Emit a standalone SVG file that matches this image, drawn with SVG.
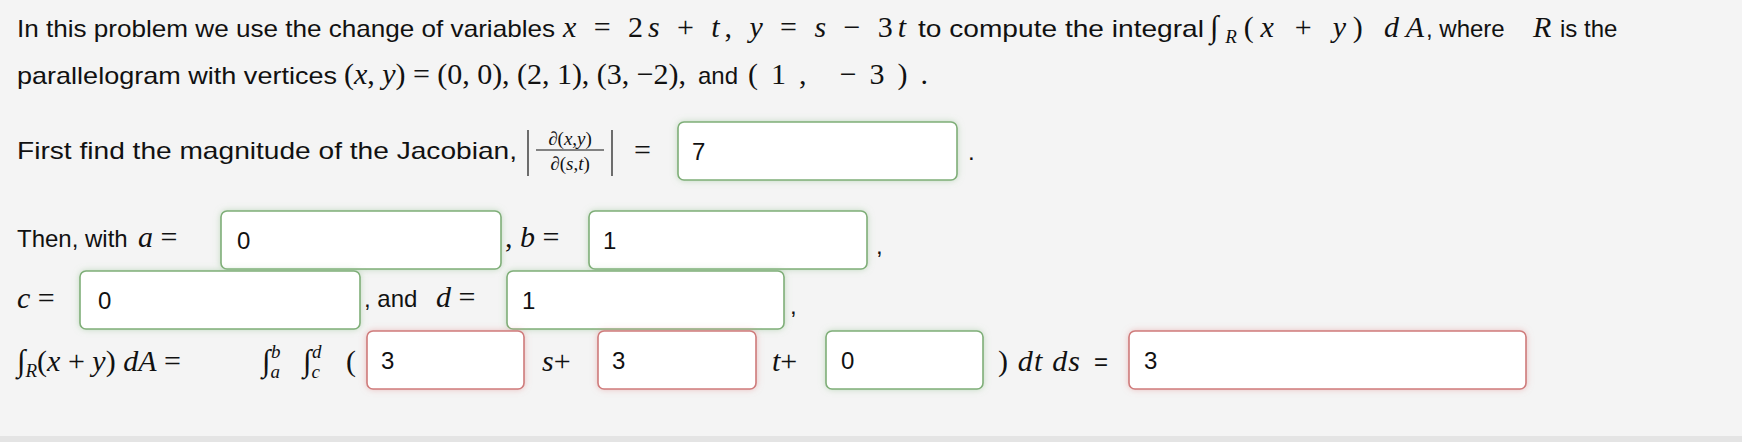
<svg xmlns="http://www.w3.org/2000/svg" width="1742" height="442" viewBox="0 0 1742 442">
<style>
.t{font-family:"Liberation Sans",Arial,sans-serif;font-size:24px;fill:#111}
.m{font-family:"Liberation Serif","Times New Roman",serif;font-size:30px;fill:#111}
.i{font-style:italic}
.s{font-size:19px}
.box{fill:#fff;stroke-width:1.6}
.g{stroke:#7fae78;filter:url(#gg)}
.r{stroke:#cf7b7b;filter:url(#gr)}
.v{font-family:"Liberation Sans",Arial,sans-serif;font-size:24px;fill:#111}
</style>
<defs>
<filter id="gg" x="-10%" y="-30%" width="120%" height="160%"><feDropShadow dx="0" dy="0" stdDeviation="3" flood-color="#8fc08a" flood-opacity="0.5"/></filter>
<filter id="gr" x="-10%" y="-30%" width="120%" height="160%"><feDropShadow dx="0" dy="0" stdDeviation="3" flood-color="#e08a8a" flood-opacity="0.5"/></filter>
</defs>
<rect width="1742" height="442" fill="#f4f4f4"/>
<rect x="0" y="436" width="1742" height="6" fill="#e4e4e4"/>
<g id="line1">
<text class="t" x="17" y="37" textLength="538" lengthAdjust="spacingAndGlyphs">In this problem we use the change of variables</text>
<text class="m" x="563" y="37" textLength="343" lengthAdjust="spacing"><tspan class="i">x</tspan> = 2<tspan class="i">s</tspan> + <tspan class="i">t</tspan>, <tspan class="i">y</tspan> = <tspan class="i">s</tspan> − 3<tspan class="i">t</tspan></text>
<text class="t" x="918" y="37" textLength="286" lengthAdjust="spacingAndGlyphs">to compute the integral</text>
<text class="m" x="1210" y="37" textLength="214" lengthAdjust="spacing"><tspan font-size="31">∫</tspan><tspan class="i s" dy="6">R</tspan><tspan dy="-6">(</tspan><tspan class="i">x</tspan> + <tspan class="i">y</tspan>) <tspan class="i">dA</tspan></text>
<text class="t" x="1426" y="37">, where</text>
<text class="m i" x="1533" y="37">R</text>
<text class="t" x="1560" y="37">is the</text>
</g>
<g id="line2">
<text class="t" x="17" y="84" textLength="320" lengthAdjust="spacingAndGlyphs">parallelogram with vertices</text>
<text class="m" x="344" y="84" textLength="342" lengthAdjust="spacing">(<tspan class="i">x</tspan>, <tspan class="i">y</tspan>) = (0, 0), (2, 1), (3, −2),</text>
<text class="t" x="698" y="84">and</text>
<text class="m" x="748" y="84" textLength="180" lengthAdjust="spacing">(1, −3).</text>
</g>
<g id="jacobian">
<text class="t" x="17" y="159" textLength="500" lengthAdjust="spacingAndGlyphs">First find the magnitude of the Jacobian,</text>
<line x1="528" y1="130" x2="528" y2="176" stroke="#111" stroke-width="1.2"/>
<line x1="612" y1="130" x2="612" y2="176" stroke="#111" stroke-width="1.2"/>
<line x1="536" y1="150" x2="604" y2="150" stroke="#111" stroke-width="1"/>
<text class="m s" x="570" y="145" text-anchor="middle">∂(<tspan class="i">x</tspan>,<tspan class="i">y</tspan>)</text>
<text class="m s" x="570" y="170" text-anchor="middle">∂(<tspan class="i">s</tspan>,<tspan class="i">t</tspan>)</text>
<text class="m" x="634" y="160">=</text>
<rect class="box g" x="678" y="122" width="279" height="58" rx="6"/>
<text class="v" x="692" y="160">7</text>
<text class="t" x="968" y="160">.</text>
</g>
<g id="row-ab">
<text class="t" x="17" y="247">Then, with</text>
<text class="m" x="138" y="247"><tspan class="i">a</tspan> =</text>
<rect class="box g" x="221" y="211" width="280" height="58" rx="6"/>
<text class="v" x="237" y="249">0</text>
<text class="m" x="505" y="247">, <tspan class="i">b</tspan> =</text>
<rect class="box g" x="589" y="211" width="278" height="58" rx="6"/>
<text class="v" x="603" y="249">1</text>
<text class="t" x="876" y="254">,</text>
</g>
<g id="row-cd">
<text class="m" x="17" y="308"><tspan class="i">c</tspan> =</text>
<rect class="box g" x="80" y="271" width="280" height="58" rx="6"/>
<text class="v" x="98" y="309">0</text>
<text class="t" x="364" y="307">, and</text>
<text class="m" x="436" y="307"><tspan class="i">d</tspan> =</text>
<rect class="box g" x="507" y="271" width="277" height="58" rx="6"/>
<text class="v" x="522" y="309">1</text>
<text class="t" x="790" y="314">,</text>
</g>
<g id="row-integral">
<text class="m" x="17" y="371"><tspan font-size="31">∫</tspan><tspan class="i s" dy="6">R</tspan><tspan dy="-6">(</tspan><tspan class="i">x</tspan> + <tspan class="i">y</tspan>) <tspan class="i">dA</tspan> = </text>
<text class="m" x="262" y="371"><tspan font-size="31">∫</tspan><tspan class="i s" dy="7">a</tspan><tspan class="i s" dx="-9" dy="-20">b</tspan></text>
<text class="m" x="303" y="371"><tspan font-size="31">∫</tspan><tspan class="i s" dy="7">c</tspan><tspan class="i s" dx="-8" dy="-20">d</tspan></text>
<text class="m" x="346" y="371">(</text>
<rect class="box r" x="367" y="331" width="157" height="58" rx="6"/>
<text class="v" x="381" y="369">3</text>
<text class="m" x="542" y="371"><tspan class="i">s</tspan>+</text>
<rect class="box r" x="598" y="331" width="158" height="58" rx="6"/>
<text class="v" x="612" y="369">3</text>
<text class="m" x="772" y="371"><tspan class="i">t</tspan>+</text>
<rect class="box g" x="826" y="331" width="157" height="58" rx="6"/>
<text class="v" x="841" y="369">0</text>
<text class="m" x="998" y="371" textLength="82" lengthAdjust="spacing">) <tspan class="i">dt ds</tspan></text>
<text class="t" x="1094" y="370">=</text>
<rect class="box r" x="1129" y="331" width="397" height="58" rx="6"/>
<text class="v" x="1144" y="369">3</text>
</g>
</svg>
